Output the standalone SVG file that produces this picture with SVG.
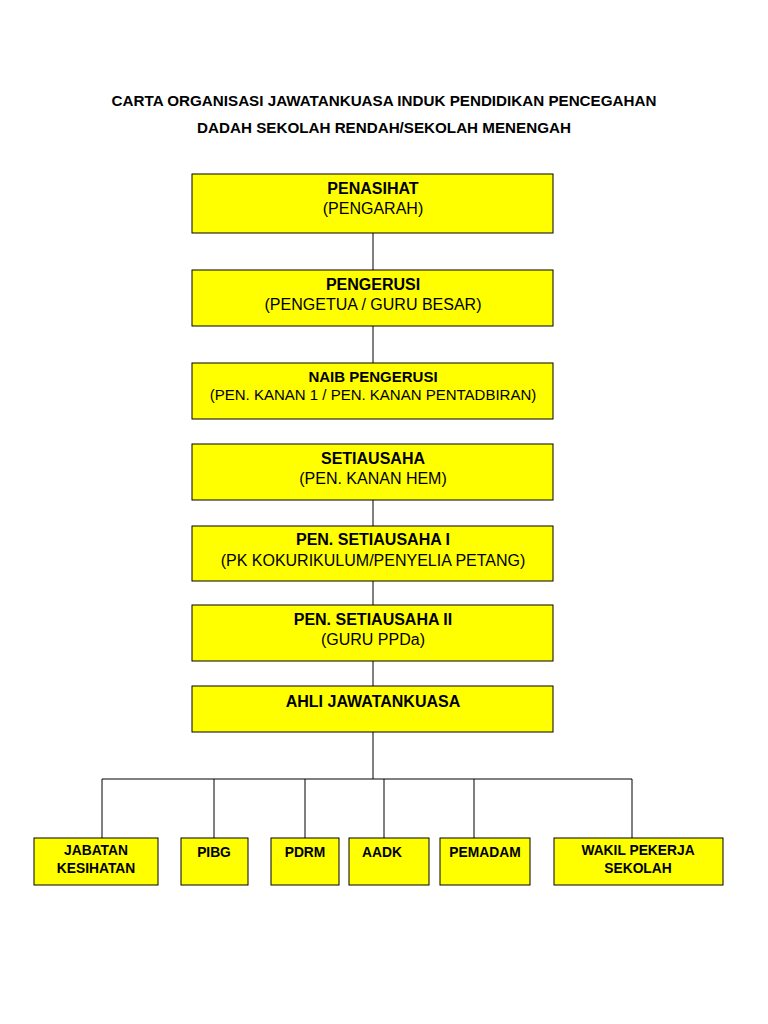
<svg xmlns="http://www.w3.org/2000/svg" width="768" height="1024" viewBox="0 0 768 1024">
<style>
.b{fill:#ffff00;stroke:#000;stroke-width:1}
text{font-family:"Liberation Sans",Arial,sans-serif;fill:#000;text-anchor:middle}
.t{font-size:15.2px;font-weight:bold}
.h{font-size:16px;font-weight:bold}
.r{font-size:16px}
.h2{font-size:15px;font-weight:bold}
.r2{font-size:15px}
.s{font-size:13.8px;font-weight:bold}
.c{stroke:#000;stroke-width:1;fill:none}
</style>
<rect width="768" height="1024" fill="#fff"/>
<text class="t" x="384" y="106">CARTA ORGANISASI JAWATANKUASA INDUK PENDIDIKAN PENCEGAHAN</text>
<text class="t" x="384" y="133">DADAH SEKOLAH RENDAH/SEKOLAH MENENGAH</text>
<g id="connectors" class="c">
<path d="M373 233V270M373 326V363M373 500V526M373 581V605M373 661V686M373 732V779M102 779H632M102 779V838M214 779V838M305 779V838M384 779V838M474 779V838M632 779V838"/>
</g>
<g id="n1"><rect class="b" x="192" y="174" width="361" height="59"/><text class="h" x="373" y="194">PENASIHAT</text><text class="r" x="373" y="214">(PENGARAH)</text></g>
<g id="n2"><rect class="b" x="192" y="270" width="361" height="56"/><text class="h" x="373" y="290">PENGERUSI</text><text class="r" x="373" y="310">(PENGETUA / GURU BESAR)</text></g>
<g id="n3"><rect class="b" x="192" y="363" width="361" height="56"/><text class="h2" x="373" y="382">NAIB PENGERUSI</text><text class="r2" x="373" y="400">(PEN. KANAN 1 / PEN. KANAN PENTADBIRAN)</text></g>
<g id="n4"><rect class="b" x="192" y="444" width="361" height="56"/><text class="h" x="373" y="464">SETIAUSAHA</text><text class="r" x="373" y="484">(PEN. KANAN HEM)</text></g>
<g id="n5"><rect class="b" x="192" y="526" width="361" height="55"/><text class="h" x="373" y="545">PEN. SETIAUSAHA I</text><text class="r" x="373" y="566">(PK KOKURIKULUM/PENYELIA PETANG)</text></g>
<g id="n6"><rect class="b" x="192" y="605" width="361" height="56"/><text class="h" x="373" y="625">PEN. SETIAUSAHA II</text><text class="r" x="373" y="645">(GURU PPDa)</text></g>
<g id="n7"><rect class="b" x="192" y="686" width="361" height="46"/><text class="h" x="373" y="707">AHLI JAWATANKUASA</text></g>
<g id="n8"><rect class="b" x="34" y="838" width="124" height="47"/><text class="s" x="96" y="855">JABATAN</text><text class="s" x="96" y="873">KESIHATAN</text></g>
<g id="n9"><rect class="b" x="181" y="838" width="67" height="47"/><text class="s" x="214" y="857">PIBG</text></g>
<g id="n10"><rect class="b" x="271" y="838" width="68" height="47"/><text class="s" x="305" y="857">PDRM</text></g>
<g id="n11"><rect class="b" x="349" y="838" width="80" height="47"/><text class="s" x="382" y="857">AADK</text></g>
<g id="n12"><rect class="b" x="440" y="838" width="90" height="47"/><text class="s" x="485" y="857">PEMADAM</text></g>
<g id="n13"><rect class="b" x="554" y="838" width="169" height="47"/><text class="s" x="638" y="855">WAKIL PEKERJA</text><text class="s" x="638" y="873">SEKOLAH</text></g>
</svg>
